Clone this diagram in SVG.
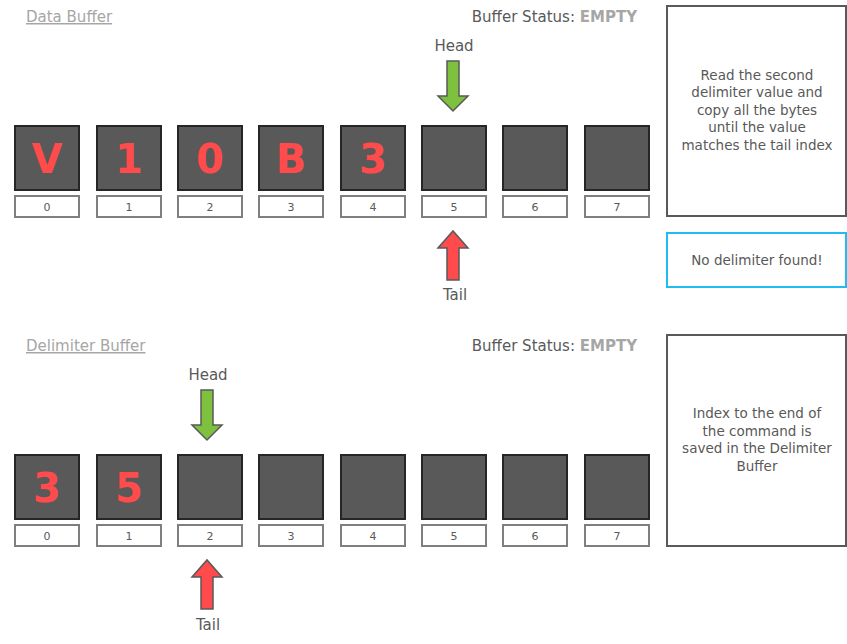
<svg xmlns="http://www.w3.org/2000/svg" width="847" height="644" viewBox="0 0 847 644">
<style>
text{font-family:"Century Gothic","DejaVu Sans","Liberation Sans",sans-serif;fill:#595959}
.cell{fill:#595959;stroke:#262626;stroke-width:2}
.idx{fill:#fff;stroke:#7f7f7f;stroke-width:2}
.it{font-size:11px;text-anchor:middle}
.v{font-size:40px;font-weight:bold;fill:#ff4b4b;text-anchor:middle}
.lbl{font-size:15px;text-anchor:middle}
.box{fill:#fff;stroke:#595959;stroke-width:2}
.bt{font-size:13.5px;text-anchor:middle}
.head{fill:#7ec13e;stroke:#595959;stroke-width:1.5}
.tail{fill:#ff4b4b;stroke:#595959;stroke-width:1.5}
.title{font-size:15px;fill:#a6a6a6;text-decoration:underline}
.st{font-size:15px;text-anchor:end}
</style>
<defs>
<path id="down" d="M-6,0 H6 V35 H15 L0,50 L-15,35 H-6 Z"/>
<path id="up" d="M-6,49 H6 V17 H15 L0,0 L-15,17 H-6 Z"/>
</defs>
<g id="data-title"><text class="title" x="26" y="22">Data Buffer</text></g>
<g id="data-status"><text class="st" x="637" y="22">Buffer Status: <tspan font-weight="bold" fill="#a6a6a6">EMPTY</tspan></text></g>
<g id="data-cells">
<rect class="cell" x="15" y="126" width="64" height="64"/><text class="v" x="47" y="173">V</text>
<rect class="cell" x="97" y="126" width="64" height="64"/><text class="v" x="129" y="173">1</text>
<rect class="cell" x="178" y="126" width="64" height="64"/><text class="v" x="210" y="173">0</text>
<rect class="cell" x="259" y="126" width="64" height="64"/><text class="v" x="291" y="173">B</text>
<rect class="cell" x="341" y="126" width="64" height="64"/><text class="v" x="373" y="173">3</text>
<rect class="cell" x="422" y="126" width="64" height="64"/>
<rect class="cell" x="503" y="126" width="64" height="64"/>
<rect class="cell" x="585" y="126" width="64" height="64"/>
</g>
<g id="data-index">
<rect class="idx" x="15" y="196" width="64" height="21"/><text class="it" x="47" y="211">0</text>
<rect class="idx" x="97" y="196" width="64" height="21"/><text class="it" x="129" y="211">1</text>
<rect class="idx" x="178" y="196" width="64" height="21"/><text class="it" x="210" y="211">2</text>
<rect class="idx" x="259" y="196" width="64" height="21"/><text class="it" x="291" y="211">3</text>
<rect class="idx" x="341" y="196" width="64" height="21"/><text class="it" x="373" y="211">4</text>
<rect class="idx" x="422" y="196" width="64" height="21"/><text class="it" x="454" y="211">5</text>
<rect class="idx" x="503" y="196" width="64" height="21"/><text class="it" x="535" y="211">6</text>
<rect class="idx" x="585" y="196" width="64" height="21"/><text class="it" x="617" y="211">7</text>
</g>
<g id="data-head"><text class="lbl" x="454" y="51">Head</text><use href="#down" class="head" transform="translate(453,61)"/></g>
<g id="data-tail"><use href="#up" class="tail" transform="translate(453,231)"/><text class="lbl" x="455" y="300">Tail</text></g>
<g id="data-note"><rect class="box" x="667" y="6" width="179" height="210"/>
<text class="bt" x="757" y="80">Read the second</text><text class="bt" x="757" y="97">delimiter value and</text><text class="bt" x="757" y="115">copy all the bytes</text><text class="bt" x="757" y="132">until the value</text><text class="bt" x="757" y="150">matches the tail index</text></g>
<g id="data-msg"><rect x="667" y="233" width="179" height="54" fill="#fff" stroke="#1ebcf0" stroke-width="2"/><text class="bt" x="757" y="265">No delimiter found!</text></g>

<g id="delim-title"><text class="title" x="26" y="351">Delimiter Buffer</text></g>
<g id="delim-status"><text class="st" x="637" y="351">Buffer Status: <tspan font-weight="bold" fill="#a6a6a6">EMPTY</tspan></text></g>
<g id="delim-cells">
<rect class="cell" x="15" y="455" width="64" height="64"/><text class="v" x="47" y="502">3</text>
<rect class="cell" x="97" y="455" width="64" height="64"/><text class="v" x="129" y="502">5</text>
<rect class="cell" x="178" y="455" width="64" height="64"/>
<rect class="cell" x="259" y="455" width="64" height="64"/>
<rect class="cell" x="341" y="455" width="64" height="64"/>
<rect class="cell" x="422" y="455" width="64" height="64"/>
<rect class="cell" x="503" y="455" width="64" height="64"/>
<rect class="cell" x="585" y="455" width="64" height="64"/>
</g>
<g id="delim-index">
<rect class="idx" x="15" y="525" width="64" height="21"/><text class="it" x="47" y="540">0</text>
<rect class="idx" x="97" y="525" width="64" height="21"/><text class="it" x="129" y="540">1</text>
<rect class="idx" x="178" y="525" width="64" height="21"/><text class="it" x="210" y="540">2</text>
<rect class="idx" x="259" y="525" width="64" height="21"/><text class="it" x="291" y="540">3</text>
<rect class="idx" x="341" y="525" width="64" height="21"/><text class="it" x="373" y="540">4</text>
<rect class="idx" x="422" y="525" width="64" height="21"/><text class="it" x="454" y="540">5</text>
<rect class="idx" x="503" y="525" width="64" height="21"/><text class="it" x="535" y="540">6</text>
<rect class="idx" x="585" y="525" width="64" height="21"/><text class="it" x="617" y="540">7</text>
</g>
<g id="delim-head"><text class="lbl" x="208" y="380">Head</text><use href="#down" class="head" transform="translate(207,390)"/></g>
<g id="delim-tail"><use href="#up" class="tail" transform="translate(207,560)"/><text class="lbl" x="208" y="630">Tail</text></g>
<g id="delim-note"><rect class="box" x="667" y="335" width="179" height="211"/>
<text class="bt" x="757" y="418">Index to the end of</text><text class="bt" x="757" y="436">the command is</text><text class="bt" x="757" y="453">saved in the Delimiter</text><text class="bt" x="757" y="471">Buffer</text></g>
<g id="connectors"/>
</svg>
